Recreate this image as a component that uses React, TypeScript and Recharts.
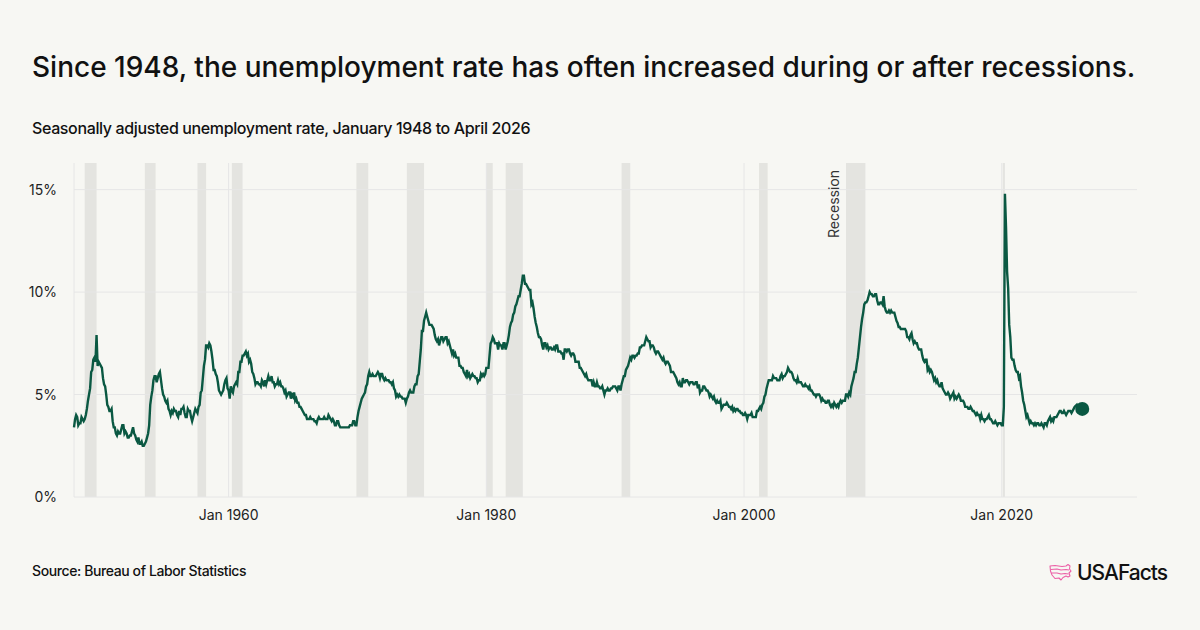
import { LineChart, Line, XAxis, YAxis, ReferenceArea, ReferenceLine } from "recharts";

// Monthly seasonally adjusted unemployment rate (%), starting January 1948
const startYear = 1948;

const rates1940s = [
  3.4, 3.8, 4.0, 3.9, 3.5, 3.6, 3.6, 3.9, 3.8, 3.7, 3.8, 4.0,
  4.3, 4.7, 5.0, 5.3, 6.1, 6.2, 6.7, 6.8, 6.6, 7.9, 6.4, 6.6,
];

const rates1950s = [
  6.5, 6.4, 6.3, 5.8, 5.5, 5.4, 5.0, 4.5, 4.4, 4.2, 4.2, 4.3,
  3.7, 3.4, 3.4, 3.1, 3.0, 3.2, 3.1, 3.1, 3.3, 3.5, 3.5, 3.1,
  3.2, 3.1, 2.9, 2.9, 3.0, 3.0, 3.2, 3.4, 3.1, 3.0, 2.8, 2.7,
  2.9, 2.6, 2.6, 2.7, 2.5, 2.5, 2.6, 2.7, 2.9, 3.1, 3.5, 4.5,
  4.9, 5.2, 5.7, 5.9, 5.9, 5.6, 5.8, 6.0, 6.1, 5.7, 5.3, 5.0,
  4.9, 4.7, 4.6, 4.7, 4.3, 4.2, 4.0, 4.2, 4.1, 4.3, 4.2, 4.2,
  4.0, 3.9, 4.2, 4.0, 4.3, 4.3, 4.4, 4.1, 3.9, 3.9, 4.3, 4.2,
  4.2, 3.9, 3.7, 3.9, 4.1, 4.3, 4.2, 4.1, 4.4, 4.5, 5.1, 5.2,
  5.8, 6.4, 6.7, 7.4, 7.4, 7.3, 7.5, 7.4, 7.1, 6.7, 6.2, 6.2,
  6.0, 5.9, 5.6, 5.2, 5.1, 5.0, 5.1, 5.2, 5.5, 5.7, 5.8, 5.3,
];

const rates1960s = [
  5.2, 4.8, 5.4, 5.2, 5.1, 5.4, 5.5, 5.6, 5.5, 6.1, 6.1, 6.6,
  6.6, 6.9, 6.9, 7.0, 7.1, 6.9, 7.0, 6.6, 6.7, 6.5, 6.1, 6.0,
  5.8, 5.5, 5.6, 5.6, 5.5, 5.5, 5.4, 5.7, 5.6, 5.4, 5.7, 5.5,
  5.7, 5.9, 5.7, 5.7, 5.9, 5.6, 5.6, 5.4, 5.5, 5.5, 5.7, 5.5,
  5.6, 5.4, 5.4, 5.3, 5.1, 5.2, 4.9, 5.0, 5.1, 5.1, 4.8, 5.0,
  4.9, 5.1, 4.7, 4.8, 4.6, 4.6, 4.4, 4.4, 4.3, 4.2, 4.1, 4.0,
  4.0, 3.8, 3.8, 3.8, 3.9, 3.8, 3.8, 3.8, 3.7, 3.7, 3.6, 3.8,
  3.9, 3.8, 3.8, 3.8, 3.8, 3.9, 3.8, 3.8, 3.8, 4.0, 3.9, 3.8,
  3.7, 3.8, 3.7, 3.5, 3.5, 3.7, 3.7, 3.5, 3.4, 3.4, 3.4, 3.4,
  3.4, 3.4, 3.4, 3.4, 3.4, 3.5, 3.5, 3.5, 3.7, 3.7, 3.5, 3.5,
];

const rates1970s = [
  3.9, 4.2, 4.4, 4.6, 4.8, 4.9, 5.0, 5.1, 5.4, 5.5, 5.9, 6.1,
  5.9, 5.9, 6.0, 5.9, 5.9, 5.9, 6.0, 6.1, 6.0, 5.8, 6.0, 6.0,
  5.8, 5.7, 5.8, 5.7, 5.7, 5.7, 5.6, 5.6, 5.5, 5.6, 5.3, 5.2,
  4.9, 5.0, 4.9, 5.0, 4.9, 4.9, 4.8, 4.8, 4.8, 4.6, 4.8, 4.9,
  5.1, 5.2, 5.1, 5.1, 5.1, 5.4, 5.5, 5.5, 5.9, 6.0, 6.6, 7.2,
  8.1, 8.1, 8.6, 8.8, 9.0, 8.8, 8.6, 8.4, 8.4, 8.4, 8.3, 8.2,
  7.9, 7.7, 7.6, 7.7, 7.4, 7.6, 7.8, 7.8, 7.6, 7.7, 7.8, 7.8,
  7.5, 7.6, 7.4, 7.2, 7.0, 7.2, 6.9, 7.0, 6.8, 6.8, 6.8, 6.4,
  6.4, 6.3, 6.3, 6.1, 6.0, 5.9, 6.2, 5.9, 6.0, 5.8, 5.9, 6.0,
  5.9, 5.9, 5.8, 5.8, 5.6, 5.7, 5.7, 6.0, 5.9, 6.0, 5.9, 6.0,
];

const rates1980s = [
  6.3, 6.3, 6.3, 6.9, 7.5, 7.6, 7.8, 7.7, 7.5, 7.5, 7.5, 7.2,
  7.5, 7.4, 7.4, 7.2, 7.5, 7.5, 7.2, 7.4, 7.6, 7.9, 8.3, 8.5,
  8.6, 8.9, 9.0, 9.3, 9.4, 9.6, 9.8, 9.8, 10.1, 10.4, 10.8, 10.8,
  10.4, 10.4, 10.3, 10.2, 10.1, 10.1, 9.4, 9.5, 9.2, 8.8, 8.5, 8.3,
  8.0, 7.8, 7.8, 7.7, 7.4, 7.2, 7.5, 7.5, 7.3, 7.4, 7.2, 7.3,
  7.3, 7.2, 7.2, 7.3, 7.2, 7.4, 7.4, 7.1, 7.1, 7.1, 7.0, 7.0,
  6.7, 7.2, 7.2, 7.1, 7.2, 7.2, 7.0, 6.9, 7.0, 7.0, 6.9, 6.6,
  6.6, 6.6, 6.6, 6.3, 6.3, 6.2, 6.1, 6.0, 5.9, 6.0, 5.8, 5.7,
  5.7, 5.7, 5.7, 5.4, 5.6, 5.4, 5.4, 5.6, 5.4, 5.4, 5.3, 5.3,
  5.4, 5.2, 5.0, 5.2, 5.2, 5.3, 5.2, 5.2, 5.3, 5.3, 5.4, 5.4,
];

const rates1990s = [
  5.4, 5.3, 5.2, 5.4, 5.4, 5.2, 5.5, 5.7, 5.9, 5.9, 6.2, 6.3,
  6.4, 6.6, 6.8, 6.7, 6.9, 6.9, 6.8, 6.9, 6.9, 7.0, 7.0, 7.3,
  7.3, 7.4, 7.4, 7.4, 7.6, 7.8, 7.7, 7.6, 7.6, 7.3, 7.4, 7.4,
  7.3, 7.1, 7.0, 7.1, 7.1, 7.0, 6.9, 6.8, 6.7, 6.8, 6.6, 6.5,
  6.6, 6.6, 6.5, 6.4, 6.1, 6.1, 6.1, 6.0, 5.9, 5.8, 5.6, 5.5,
  5.6, 5.4, 5.4, 5.8, 5.6, 5.6, 5.7, 5.7, 5.6, 5.5, 5.6, 5.6,
  5.6, 5.5, 5.5, 5.6, 5.6, 5.3, 5.5, 5.1, 5.2, 5.2, 5.4, 5.4,
  5.3, 5.2, 5.2, 5.1, 4.9, 5.0, 4.9, 4.8, 4.9, 4.7, 4.6, 4.7,
  4.6, 4.6, 4.7, 4.3, 4.4, 4.5, 4.5, 4.5, 4.6, 4.5, 4.4, 4.4,
  4.3, 4.4, 4.2, 4.3, 4.2, 4.3, 4.3, 4.2, 4.2, 4.1, 4.1, 4.0,
];

const rates2000s = [
  4.0, 4.1, 4.0, 3.8, 4.0, 4.0, 4.0, 4.1, 3.9, 3.9, 3.9, 3.9,
  4.2, 4.2, 4.3, 4.4, 4.3, 4.5, 4.6, 4.9, 5.0, 5.3, 5.5, 5.7,
  5.7, 5.7, 5.7, 5.9, 5.8, 5.8, 5.8, 5.7, 5.7, 5.7, 5.9, 6.0,
  5.8, 5.9, 5.9, 6.0, 6.1, 6.3, 6.2, 6.1, 6.1, 6.0, 5.8, 5.7,
  5.7, 5.6, 5.8, 5.6, 5.6, 5.6, 5.5, 5.4, 5.4, 5.5, 5.4, 5.4,
  5.3, 5.4, 5.2, 5.2, 5.1, 5.0, 5.0, 4.9, 5.0, 5.0, 5.0, 4.9,
  4.7, 4.8, 4.7, 4.7, 4.6, 4.6, 4.7, 4.7, 4.5, 4.4, 4.5, 4.4,
  4.6, 4.5, 4.4, 4.5, 4.4, 4.6, 4.7, 4.6, 4.7, 4.7, 4.7, 5.0,
  5.0, 4.9, 5.1, 5.0, 5.4, 5.6, 5.8, 6.1, 6.1, 6.5, 6.8, 7.3,
  7.8, 8.3, 8.7, 9.0, 9.4, 9.5, 9.5, 9.6, 9.8, 10.0, 9.9, 9.9,
];

const rates2010s = [
  9.8, 9.8, 9.9, 9.9, 9.6, 9.4, 9.4, 9.5, 9.5, 9.4, 9.8, 9.3,
  9.1, 9.0, 9.0, 9.1, 9.0, 9.1, 9.0, 9.0, 9.0, 8.8, 8.6, 8.5,
  8.3, 8.3, 8.2, 8.2, 8.2, 8.2, 8.2, 8.1, 7.8, 7.8, 7.7, 7.9,
  8.0, 7.7, 7.5, 7.6, 7.5, 7.5, 7.3, 7.2, 7.2, 7.2, 6.9, 6.7,
  6.6, 6.7, 6.7, 6.2, 6.3, 6.1, 6.2, 6.1, 5.9, 5.7, 5.8, 5.6,
  5.7, 5.5, 5.4, 5.4, 5.6, 5.3, 5.2, 5.1, 5.0, 5.0, 5.1, 5.0,
  4.8, 4.9, 5.0, 5.1, 4.8, 4.9, 4.8, 4.9, 5.0, 4.9, 4.7, 4.7,
  4.7, 4.6, 4.4, 4.4, 4.4, 4.3, 4.3, 4.4, 4.3, 4.2, 4.2, 4.1,
  4.0, 4.1, 4.0, 4.0, 3.8, 4.0, 3.8, 3.8, 3.7, 3.8, 3.8, 3.9,
  4.0, 3.8, 3.8, 3.7, 3.6, 3.6, 3.7, 3.6, 3.5, 3.6, 3.6, 3.6,
];

const rates2020s: (number | null)[] = [
  3.5, 3.5, 4.4, 14.8, 13.2, 11.0, 10.2, 8.4, 7.8, 6.8, 6.7, 6.7,
  6.4, 6.2, 6.1, 6.1, 5.8, 5.9, 5.4, 5.1, 4.7, 4.5, 4.2, 3.9,
  4.0, 3.8, 3.6, 3.7, 3.6, 3.6, 3.5, 3.6, 3.5, 3.6, 3.6, 3.5,
  3.5, 3.6, 3.5, 3.4, 3.6, 3.6, 3.5, 3.7, 3.8, 3.9, 3.7, 3.8,
  3.7, 3.9, 3.9, 3.9, 4.0, 4.1, 4.2, 4.2, 4.1, 4.1, 4.2, 4.1,
  4.0, 4.1, 4.2, 4.2, 4.2, 4.1, 4.2, 4.3, 4.4, null, 4.5, 4.4,
  4.3, 4.4, 4.3, 4.3,
];

const monthlyRate = [
  ...rates1940s, ...rates1950s, ...rates1960s, ...rates1970s, ...rates1980s,
  ...rates1990s, ...rates2000s, ...rates2010s, ...rates2020s,
];

// NBER recessions, peak month to trough month
const recessions = [
  ["1948-11", "1949-10"], ["1953-07", "1954-05"], ["1957-08", "1958-04"],
  ["1960-04", "1961-02"], ["1969-12", "1970-11"], ["1973-11", "1975-03"],
  ["1980-01", "1980-07"], ["1981-07", "1982-11"], ["1990-07", "1991-03"],
  ["2001-03", "2001-11"], ["2007-12", "2009-06"], ["2020-02", "2020-04"],
];

const xTicks = [1960, 1980, 2000, 2020];
const yTicks = [0, 5, 10, 15];

const GREEN = "#0a5842";
const BG = "#f7f7f3";
const GRID = "#e6e6e6";
const FONT = "Inter, 'Noto Sans', sans-serif";

const toYear = (ym: string) => {
  const [y, m] = ym.split("-").map(Number);
  return y + (m - 1) / 12;
};

const chartData = monthlyRate.map((rate, i) => ({ t: startYear + i / 12, rate }));
const lastIndex = chartData.length - 1;

function Logo() {
  return (
    <div style={{ position: "absolute", left: 1049, top: 560, display: "flex", alignItems: "center" }}>
      <svg width="24" height="20" viewBox="0 0 24 20">
        <g fill="none" stroke="#ec5fa6" strokeWidth="1.1" strokeLinejoin="round">
          <path d="M1 3 L6 2.5 L13 3.5 L17 3 L19 1.5 L21 3 L20.5 6 L22 8 L20 10 L21 13 L19 14 L17 13 L14 14.5 L12 17 L10 15 L6 15.5 L3 12 L1.5 8 Z" />
          <path d="M2 6.5 L8 6 L12 7 L17 6.5 L20 7" />
          <path d="M2.5 10 L8 10 L12 11 L16 10.5 L19.5 11" />
        </g>
      </svg>
      <span style={{ marginLeft: 4, fontFamily: FONT, fontSize: 21, fontWeight: 500, color: "#111", letterSpacing: -1 }}>
        USAFacts
      </span>
    </div>
  );
}

export default function App() {
  return (
    <div style={{ position: "absolute", left: 0, top: 0, width: 1200, height: 630, background: BG, overflow: "hidden", fontFamily: FONT }}>
      <div style={{ position: "absolute", left: 32, top: 50, fontSize: 28, fontWeight: 500, color: "#111", letterSpacing: 0, whiteSpace: "nowrap" }}>
        Since 1948, the unemployment rate has often increased during or after recessions.
      </div>
      <div style={{ position: "absolute", left: 32, top: 118, fontSize: 16, fontWeight: 500, color: "#111", letterSpacing: -0.37, whiteSpace: "nowrap" }}>
        Seasonally adjusted unemployment rate, January 1948 to April 2026
      </div>

      <div style={{ position: "absolute", left: 0, top: 0 }}>
        <LineChart width={1200} height={630} data={chartData} margin={{ top: 163, right: 63, bottom: 103, left: 14 }}>
          {recessions.map(([s, e]) => (
            <ReferenceArea key={s} x1={toYear(s)} x2={toYear(e)} fill="#e3e3de" fillOpacity={0.95} stroke="none" />
          ))}
          {yTicks.map((v) => (
            <ReferenceLine key={`y${v}`} y={v} stroke={GRID} />
          ))}
          {[1948, ...xTicks].map((v) => (
            <ReferenceLine key={`x${v}`} x={v} stroke={GRID} />
          ))}
          <XAxis
            dataKey="t"
            type="number"
            domain={[1948, 2030.5]}
            ticks={xTicks}
            tickFormatter={(v) => `Jan ${v}`}
            axisLine={false}
            tickLine={false}
            tickSize={0}
            tickMargin={13}
            tick={{ fontSize: 14, fill: "#222", fontFamily: FONT }}
          />
          <YAxis
            type="number"
            domain={[0, 16.3]}
            ticks={yTicks}
            tickFormatter={(v) => `${v}%`}
            width={60}
            axisLine={false}
            tickLine={false}
            tickSize={0}
            tickMargin={17}
            tick={{ fontSize: 14, fill: "#222", fontFamily: FONT }}
          />
          <Line
            type="linear"
            dataKey="rate"
            stroke={GREEN}
            strokeWidth={2.4}
            connectNulls
            isAnimationActive={false}
            activeDot={false}
            dot={(p: any) =>
              p.index === lastIndex ? (
                <circle key="end" cx={p.cx} cy={p.cy} r={7} fill={GREEN} />
              ) : (
                <g key={p.index} />
              )
            }
          />
        </LineChart>
      </div>

      <div
        style={{
          position: "absolute",
          left: 833,
          top: 204,
          transform: "translate(-50%, -50%) rotate(-90deg)",
          fontSize: 14,
          color: "#333",
          whiteSpace: "nowrap",
        }}
      >
        Recession
      </div>

      <div style={{ position: "absolute", left: 32, top: 562, fontSize: 14, fontWeight: 500, color: "#111", letterSpacing: -0.4, whiteSpace: "nowrap" }}>
        Source: Bureau of Labor Statistics
      </div>
      <Logo />
    </div>
  );
}
